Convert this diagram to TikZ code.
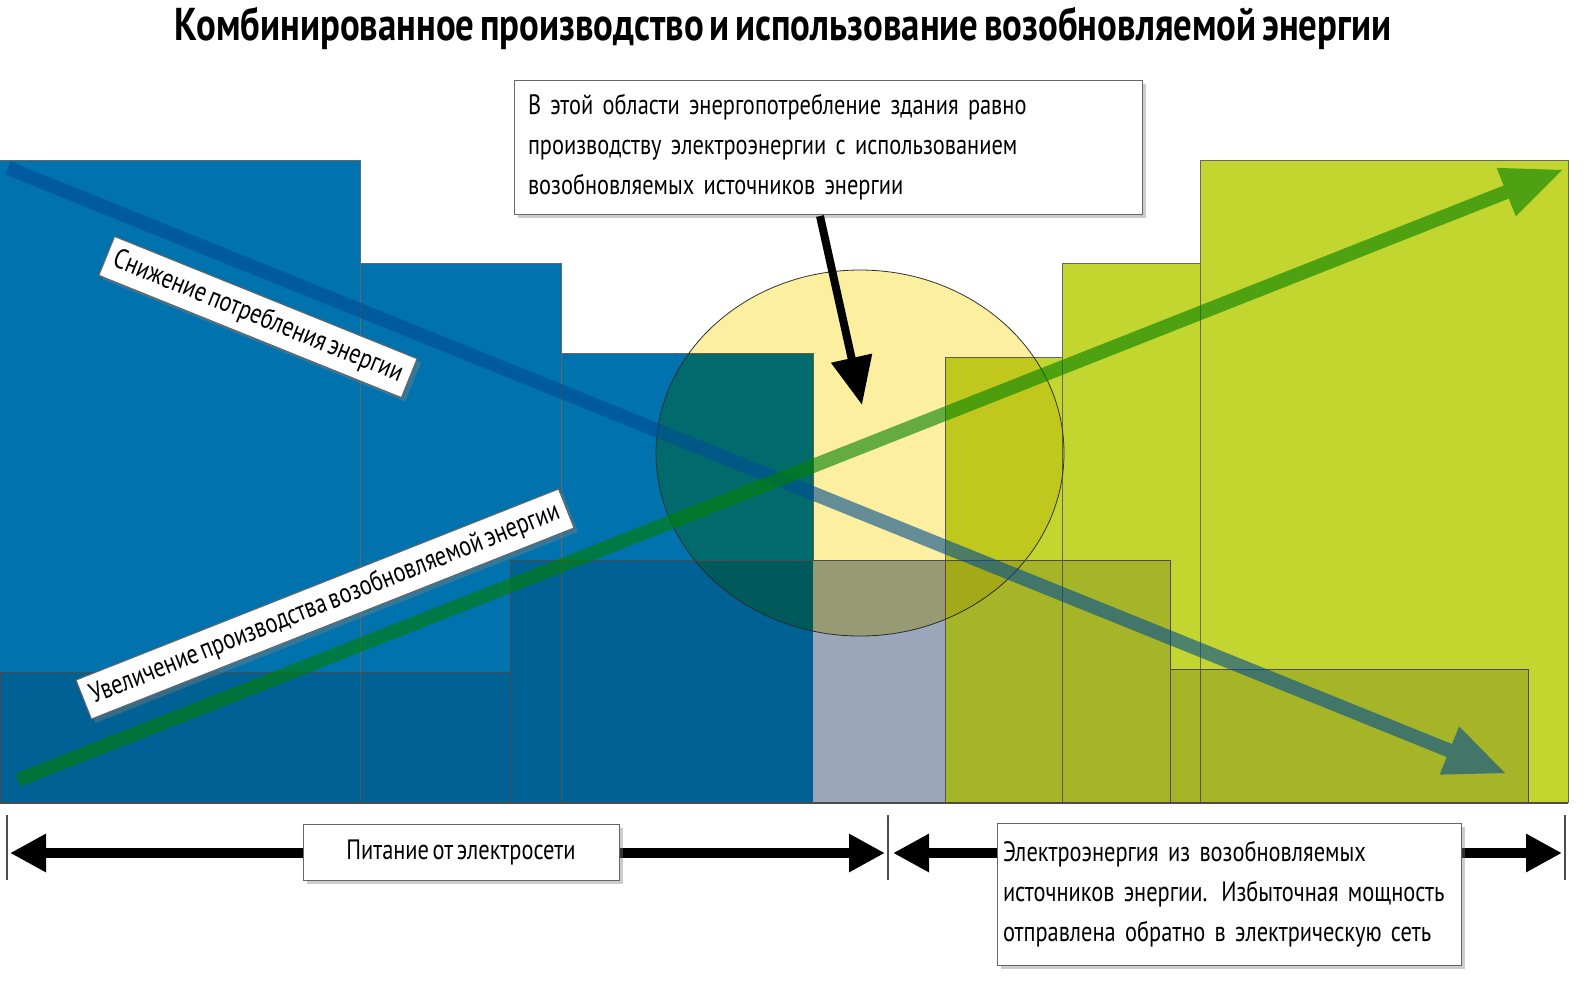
\documentclass[tikz,border=0pt]{standalone}
\usepackage{fontspec}
\setmainfont[FakeStretch=0.8,WordSpace=0.6]{PT Sans}
\usetikzlibrary{arrows.meta,shadows}
\definecolor{bl}{HTML}{0072AE}
\definecolor{gr}{HTML}{C3D52F}
\definecolor{yl}{HTML}{FCEFA0}
\definecolor{pb}{HTML}{B5C4DA}
\tikzset{
 lbl/.style={draw=black!60,fill=white,line width=0.5pt,drop shadow={shadow xshift=2pt,shadow yshift=-2pt,opacity=0.4},font=\fontsize{14}{20}\selectfont,align=left,inner sep=4pt},
 ov/.style={fill=black,fill opacity=0.15,draw=black!70,line width=0.4pt},
 big/.style={line width=5pt,-{Triangle[length=18pt,width=18pt]}}
}
\begin{document}
\begin{tikzpicture}[x=0.5pt,y=-0.5pt]
\useasboundingbox (0,0) rectangle (1586,993);
\node[font=\fontsize{23}{26}\bfseries\selectfont] (title) at (783,28) {Комбинированное производство и использование возобновляемой энергии};
% blue bars
\fill[bl] (0,160) rectangle (360,803);
\fill[bl] (360,263) rectangle (561,803);
\fill[bl] (561,353) rectangle (813,803);
\draw[black!60,line width=0.4pt] (0,160)--(360,160)--(360,803) (360,263)--(561,263)--(561,803) (561,353)--(813,353)--(813,803);
\fill[pb] (813,560) rectangle (945,803);
% green bars
\fill[gr] (945,357) rectangle (1062,803);
\fill[gr] (1062,263) rectangle (1200,803);
\fill[gr] (1200,160) rectangle (1568,803);
\draw[black!60,line width=0.4pt] (945,803)--(945,357)--(1062,357) (1062,803)--(1062,263)--(1200,263) (1200,803)--(1200,160)--(1568,160)--(1568,803);
% circle
\begin{scope}[blend mode=multiply]
\fill[yl] (860,453) ellipse [x radius=204, y radius=183];
\end{scope}
\draw[black!80,line width=0.4pt] (860,453) ellipse [x radius=204, y radius=183];
% overlays
\draw[ov] (0,672) rectangle (510,803);
\draw[ov] (510,560) rectangle (1170,803);
\draw[ov] (1170,669) rectangle (1528,803);
\draw[black!70,line width=1pt] (0,803)--(1568,803);
% arrows
\coordinate (b1) at (8,168); \coordinate (b2) at (1505,773);
\coordinate (g1) at (18,780); \coordinate (g2) at (1562,170);
\draw[line width=7pt,opacity=0.6,draw=black!60!blue!70!cyan,-{Triangle[length=30pt,width=26pt,line width=0pt]}] (b1)--(b2);
\draw[line width=7pt,opacity=0.6,draw=green!50!black,-{Triangle[length=30pt,width=26pt,line width=0pt]}] (g1)--(g2);
% rotated labels
\node[lbl,rotate=-22] (l1) at (258,317) {Снижение потребления энергии};
\node[lbl,rotate=21.6] (l2) at (325,604) {Увеличение производства возобновляемой энергии};
% top box
\node[lbl,text width=300pt,minimum height=67pt,inner sep=7pt] (top) at (828,147) {В этой области энергопотребление здания равно\\производству электроэнергии с использованием\\возобновляемых источников энергии};
\coordinate (tip) at (862,405);
\draw[line width=4pt,-{Triangle[length=24pt,width=20pt]}] (820,216)--(tip);
% bottom
\draw[black!70,line width=0.6pt] (7,815)--(7,880) (888,815)--(888,880) (1565,815)--(1565,880);
\coordinate (a1) at (10,853); \coordinate (a2) at (885,853);
\coordinate (a3) at (893,853); \coordinate (a4) at (1562,853);
\draw[big,{Triangle[length=18pt,width=18pt]}-{Triangle[length=18pt,width=18pt]}] (a1)--(a2);
\draw[big,{Triangle[length=18pt,width=18pt]}-{Triangle[length=18pt,width=18pt]}] (a3)--(a4);
\node[lbl,minimum width=158pt,minimum height=28pt,align=center] (p1) at (461,852) {Питание от электросети};
\node[lbl,text width=226pt,minimum height=71pt,inner sep=3pt] (p2) at (1229,894) {Электроэнергия из возобновляемых\\источников энергии. Избыточная мощность\\отправлена обратно в электрическую сеть};
\end{tikzpicture}
\end{document}
